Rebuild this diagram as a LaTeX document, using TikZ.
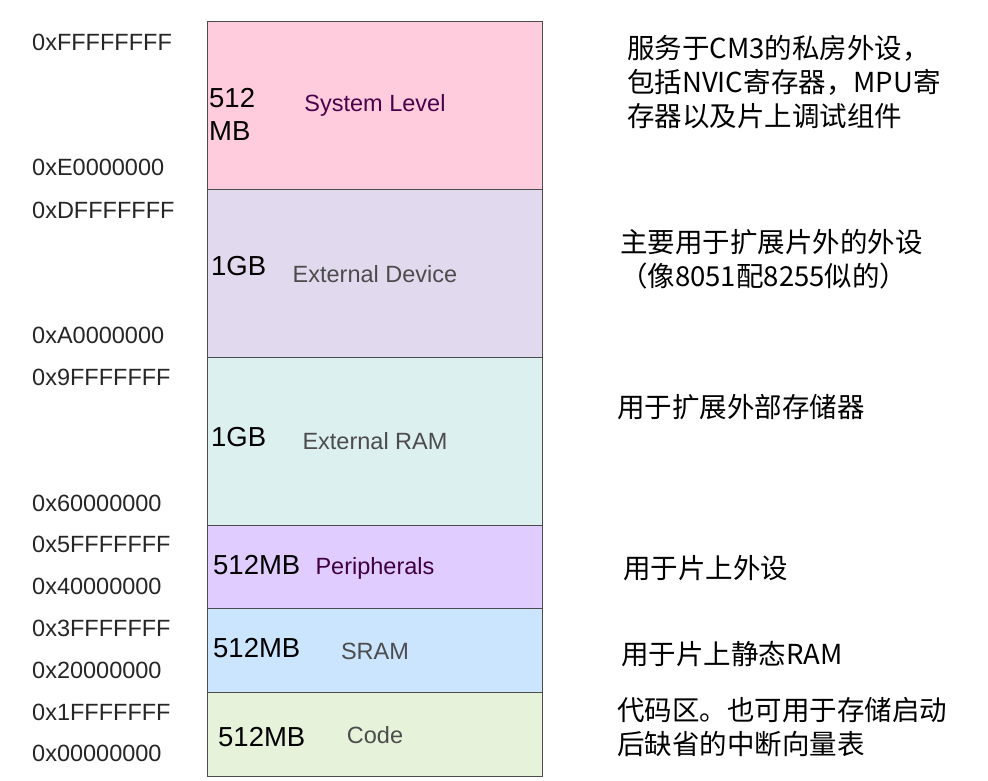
\documentclass[tikz,border=0pt]{standalone}
\usepackage{fontspec}
\setmainfont{Liberation Sans}
\newfontfamily\cjk{Noto Sans CJK SC}
\begin{document}
\begin{tikzpicture}[x=1pt,y=-1pt,
 seg/.style={draw=black!70,line width=1pt},
 addr/.style={anchor=west,inner sep=0,font=\fontsize{23.5}{26}\selectfont,text=black!85},
 sz/.style={anchor=west,font=\fontsize{27.5}{33}\selectfont,align=left,inner sep=0},
 lab/.style={font=\fontsize{23.5}{26}\selectfont,text=black!70},
 note/.style={anchor=west,font=\cjk\fontsize{27.5}{34}\selectfont,align=left,inner sep=0}]
\useasboundingbox (0,0) rectangle (988,781);
\fill[white] (0,0) rectangle (988,781);
\definecolor{c1}{HTML}{FFCCDD}\definecolor{c2}{HTML}{E1DAEE}\definecolor{c3}{HTML}{DDF0F0}
\definecolor{c4}{HTML}{E1CCFF}\definecolor{c5}{HTML}{CCE5FF}\definecolor{c6}{HTML}{E6F2DA}
\path[seg,fill=c1] (207,22) rectangle (542,189);
\path[seg,fill=c2] (207,189) rectangle (542,357);
\path[seg,fill=c3] (207,357) rectangle (542,525);
\path[seg,fill=c4] (207,525) rectangle (542,608);
\path[seg,fill=c5] (207,608) rectangle (542,692);
\path[seg,fill=c6] (207,692) rectangle (542,776);
\node[addr] (a1) at (32,42) {0xFFFFFFFF};
\node[addr] (a2) at (32,167) {0xE0000000};
\node[addr] (a3) at (32,210) {0xDFFFFFFF};
\node[addr] (a4) at (32,335) {0xA0000000};
\node[addr] (a5) at (32,377) {0x9FFFFFFF};
\node[addr] (a6) at (32,503) {0x60000000};
\node[addr] (a7) at (32,544) {0x5FFFFFFF};
\node[addr] (a8) at (32,586) {0x40000000};
\node[addr] (a9) at (32,628) {0x3FFFFFFF};
\node[addr] (a10) at (32,670) {0x20000000};
\node[addr] (a11) at (32,712) {0x1FFFFFFF};
\node[addr] (a12) at (32,753) {0x00000000};
\node[sz] (s1) at (209,114) {512\\MB};
\node[sz] (s2) at (211,266) {1GB};
\node[sz] (s3) at (211,437) {1GB};
\node[sz] (s4) at (213,565) {512MB};
\node[sz] (s5) at (213,648) {512MB};
\node[sz] (s6) at (218,737) {512MB};
\node[lab,text=violet!60!black] (l1) at (375,105) {System Level};
\node[lab] (l2) at (375,274) {External Device};
\node[lab] (l3) at (375,441) {External RAM};
\node[lab,text=violet!50!black] (l4) at (375,568) {Peripherals};
\node[lab] (l5) at (375,651) {SRAM};
\node[lab] (l6) at (375,735) {Code};
\node[note] (n1) at (627,82) {服务于CM3的私房外设，\\包括NVIC寄存器，MPU寄\\存器以及片上调试组件};
\node[note] (n2) at (620,259) {主要用于扩展片外的外设\\（像8051配8255似的）};
\node[note] (n3) at (617,407) {用于扩展外部存储器};
\node[note] (n4) at (623,568) {用于片上外设};
\node[note] (n5) at (621,654) {用于片上静态RAM};
\node[note] (n6) at (617,727) {代码区。也可用于存储启动\\后缺省的中断向量表};
\end{tikzpicture}
\end{document}
